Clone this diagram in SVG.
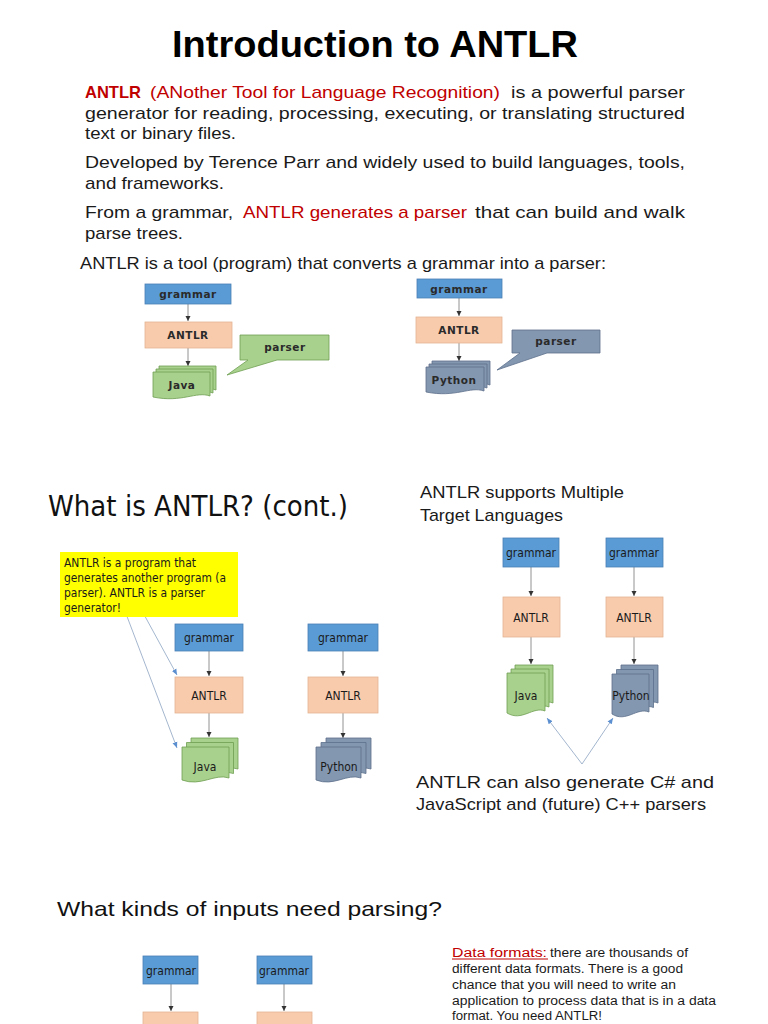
<svg xmlns="http://www.w3.org/2000/svg" width="768" height="1024" viewBox="0 0 768 1024">
<defs>
<style>
.body{font-family:"Liberation Sans",Arial,sans-serif;font-size:17px;fill:#1a1a1a}
.red{fill:#c00000}
.title{font-family:"Liberation Sans",Arial,sans-serif;font-size:36px;font-weight:bold;fill:#000}
.lbl1{font-family:"DejaVu Sans",sans-serif;font-size:10.5px;font-weight:bold;fill:#2a2a2a;text-anchor:middle;letter-spacing:0.5px}
.lbl2{font-family:"DejaVu Sans Condensed","DejaVu Sans",sans-serif;font-size:12px;fill:#1a1a1a;text-anchor:middle}
.blue{fill:#5b9bd5;stroke:#4a7fb5;stroke-width:0.8}
.peach{fill:#f8cbad;stroke:#e3b494;stroke-width:0.8}
.green{fill:#a9d18e;stroke:#6f9e52;stroke-width:0.8}
.slate{fill:#8497b0;stroke:#5d708c;stroke-width:0.8}
.conn{stroke:#777;stroke-width:0.8;fill:none}
.callout{stroke:#9aaec8;stroke-width:0.9;fill:none}
.ybox{font-family:"DejaVu Sans Condensed","DejaVu Sans",sans-serif;font-size:12px;fill:#1a1a1a}
.sm{font-family:"Liberation Sans",Arial,sans-serif;font-size:12.5px;fill:#1a1a1a}
.smred{font-family:"Liberation Sans",Arial,sans-serif;font-size:12.5px;fill:#c00000}
</style>
<marker id="ah" markerWidth="6" markerHeight="6" refX="5" refY="3" orient="auto" markerUnits="userSpaceOnUse">
<path d="M0,0.5 L5,3 L0,5.5 Z" fill="#333"/>
</marker>
<marker id="ahb" markerWidth="7" markerHeight="7" refX="6" refY="3.5" orient="auto" markerUnits="userSpaceOnUse">
<path d="M0,1 L6,3.5 L0,6 Z" fill="#5b8fd0"/>
</marker>
</defs>
<rect width="768" height="1024" fill="#fff"/>

<g id="title">
<text class="title" x="172" y="57" textLength="406" lengthAdjust="spacingAndGlyphs">Introduction to ANTLR</text>
</g>

<g id="intro-text">
<text class="body red" x="85" y="98" font-weight="bold" textLength="56" lengthAdjust="spacingAndGlyphs">ANTLR</text>
<text class="body red" x="150" y="98" textLength="350" lengthAdjust="spacingAndGlyphs">(ANother Tool for Language Recognition)</text>
<text class="body" x="511" y="98" textLength="174" lengthAdjust="spacingAndGlyphs">is a powerful parser</text>
<text class="body" x="85" y="119" textLength="600" lengthAdjust="spacingAndGlyphs">generator for reading, processing, executing, or translating structured</text>
<text class="body" x="85" y="139" textLength="151" lengthAdjust="spacingAndGlyphs">text or binary files.</text>
<text class="body" x="85" y="168" textLength="600" lengthAdjust="spacingAndGlyphs">Developed by Terence Parr and widely used to build languages, tools,</text>
<text class="body" x="85" y="189" textLength="139" lengthAdjust="spacingAndGlyphs">and frameworks.</text>
<text class="body" x="85" y="218" textLength="148" lengthAdjust="spacingAndGlyphs">From a grammar,</text>
<text class="body red" x="243" y="218" textLength="224" lengthAdjust="spacingAndGlyphs">ANTLR generates a parser</text>
<text class="body" x="475" y="218" textLength="210" lengthAdjust="spacingAndGlyphs">that can build and walk</text>
<text class="body" x="85" y="239" textLength="98" lengthAdjust="spacingAndGlyphs">parse trees.</text>
<text class="body" x="80" y="269" textLength="526" lengthAdjust="spacingAndGlyphs">ANTLR is a tool (program) that converts a grammar into a parser:</text>
</g>

<g id="connectors">
<line class="conn" x1="188" y1="304" x2="188" y2="321" marker-end="url(#ah)"/>
<line class="conn" x1="188" y1="348" x2="188" y2="366" marker-end="url(#ah)"/>
<line class="conn" x1="459" y1="298" x2="459" y2="316" marker-end="url(#ah)"/>
<line class="conn" x1="459" y1="343" x2="459" y2="361" marker-end="url(#ah)"/>
<line class="conn" x1="209" y1="651" x2="209" y2="676" marker-end="url(#ah)"/>
<line class="conn" x1="209" y1="713" x2="209" y2="737" marker-end="url(#ah)"/>
<line class="conn" x1="343" y1="651" x2="343" y2="676" marker-end="url(#ah)"/>
<line class="conn" x1="343" y1="713" x2="343" y2="738" marker-end="url(#ah)"/>
<line class="conn" x1="531" y1="567" x2="531" y2="596" marker-end="url(#ah)"/>
<line class="conn" x1="531" y1="637" x2="531" y2="664" marker-end="url(#ah)"/>
<line class="conn" x1="634" y1="567" x2="634" y2="596" marker-end="url(#ah)"/>
<line class="conn" x1="634" y1="637" x2="634" y2="664" marker-end="url(#ah)"/>
<line class="conn" x1="171" y1="984" x2="171" y2="1011" marker-end="url(#ah)"/>
<line class="conn" x1="284" y1="984" x2="284" y2="1011" marker-end="url(#ah)"/>
<line class="callout" x1="135" y1="598" x2="177" y2="675" marker-end="url(#ahb)"/>
<line class="callout" x1="120" y1="598" x2="177" y2="748" marker-end="url(#ahb)"/>
<line class="callout" x1="582" y1="764" x2="547" y2="718" marker-end="url(#ahb)"/>
<line class="callout" x1="582" y1="764" x2="613" y2="718" marker-end="url(#ahb)"/>
</g>

<g id="tl-grammar"><rect class="blue" x="145" y="284" width="86" height="20"/><text class="lbl1" x="188" y="298">grammar</text></g>
<g id="tl-antlr"><rect class="peach" x="145" y="322" width="87" height="26"/><text class="lbl1" x="188" y="339">ANTLR</text></g>
<g id="tl-java">
<path class="green" d="M159,366 H216 V390 C202,385 188,397 159,391 Z"/>
<path class="green" d="M156,369 H213 V393 C199,388 185,400 156,394 Z"/>
<path class="green" d="M153,372 H210 V396 C196,391 182,403 153,397 Z"/>
<text class="lbl1" x="182" y="389">Java</text>
</g>
<g id="tl-parser">
<path class="green" d="M240,335 H329 V360 H277 L227,375 L248,360 H240 Z"/>
<text class="lbl1" x="285" y="351">parser</text>
</g>

<g id="tr-grammar"><rect class="blue" x="417" y="279" width="85" height="19"/><text class="lbl1" x="459" y="293">grammar</text></g>
<g id="tr-antlr"><rect class="peach" x="416" y="317" width="86" height="26"/><text class="lbl1" x="459" y="334">ANTLR</text></g>
<g id="tr-python">
<path class="slate" d="M432,361 H490 V385 C476,380 462,392 432,386 Z"/>
<path class="slate" d="M429,364 H487 V388 C473,383 459,395 429,389 Z"/>
<path class="slate" d="M426,367 H484 V391 C470,386 456,398 426,392 Z"/>
<text class="lbl1" x="454" y="384">Python</text>
</g>
<g id="tr-parser">
<path class="slate" d="M512,330 H600 V353 H547 L497,370 L520,353 H512 Z"/>
<text class="lbl1" x="556" y="345">parser</text>
</g>

<g id="section2-heading">
<text x="48" y="516" font-family="DejaVu Sans Condensed, DejaVu Sans, sans-serif" font-size="29" fill="#111" textLength="300" lengthAdjust="spacingAndGlyphs">What is ANTLR? (cont.)</text>
</g>

<g id="note">
<rect x="60" y="552" width="178" height="65" fill="#ffff00"/>
<text class="ybox" x="64" y="567" textLength="132" lengthAdjust="spacingAndGlyphs">ANTLR is a program that</text>
<text class="ybox" x="64" y="582" textLength="162" lengthAdjust="spacingAndGlyphs">generates another program (a</text>
<text class="ybox" x="64" y="597" textLength="141" lengthAdjust="spacingAndGlyphs">parser). ANTLR is a parser</text>
<text class="ybox" x="64" y="612" textLength="57" lengthAdjust="spacingAndGlyphs">generator!</text>
</g>

<g id="ml-grammar"><rect class="blue" x="175" y="624" width="68" height="27"/><text class="lbl2" x="209" y="642">grammar</text></g>
<g id="ml-antlr"><rect class="peach" x="175" y="677" width="68" height="36"/><text class="lbl2" x="209" y="700">ANTLR</text></g>
<g id="ml-java">
<path class="green" d="M191,738 H238 V769 C224,764 210,778 191,771 Z"/>
<path class="green" d="M186.5,742.5 H233.5 V773.5 C219.5,768.5 205.5,782.5 186.5,775.5 Z"/>
<path class="green" d="M182,747 H229 V778 C215,773 201,787 182,780 Z"/>
<text class="lbl2" x="205" y="771">Java</text>
</g>
<g id="mr-grammar"><rect class="blue" x="308" y="624" width="70" height="27"/><text class="lbl2" x="343" y="642">grammar</text></g>
<g id="mr-antlr"><rect class="peach" x="308" y="677" width="70" height="36"/><text class="lbl2" x="343" y="700">ANTLR</text></g>
<g id="mr-python">
<path class="slate" d="M326,738 H371 V769 C357,764 344,778 326,771 Z"/>
<path class="slate" d="M321,742.5 H366 V773.5 C352,768.5 339,782.5 321,775.5 Z"/>
<path class="slate" d="M316,747 H361 V778 C347,773 334,787 316,780 Z"/>
<text class="lbl2" x="339" y="771">Python</text>
</g>

<g id="section2-right-text">
<text class="body" x="420" y="498" font-size="16" textLength="204" lengthAdjust="spacingAndGlyphs">ANTLR supports Multiple</text>
<text class="body" x="420" y="521" font-size="16" textLength="143" lengthAdjust="spacingAndGlyphs">Target Languages</text>
<text class="body" x="416" y="788" textLength="298" lengthAdjust="spacingAndGlyphs">ANTLR can also generate C# and</text>
<text class="body" x="416" y="810" textLength="290" lengthAdjust="spacingAndGlyphs">JavaScript and (future) C++ parsers</text>
</g>

<g id="t1-grammar"><rect class="blue" x="503" y="538" width="56" height="29"/><text class="lbl2" x="531" y="557">grammar</text></g>
<g id="t1-antlr"><rect class="peach" x="503" y="597" width="57" height="40"/><text class="lbl2" x="531" y="622">ANTLR</text></g>
<g id="t1-java">
<path class="green" d="M515,665 H553 V703 C541,698 530,714 515,705 Z"/>
<path class="green" d="M511,669 H549 V707 C537,702 526,718 511,709 Z"/>
<path class="green" d="M507,673 H545 V711 C533,706 522,722 507,713 Z"/>
<text class="lbl2" x="526" y="700">Java</text>
</g>
<g id="t2-grammar"><rect class="blue" x="606" y="538" width="57" height="29"/><text class="lbl2" x="634" y="557">grammar</text></g>
<g id="t2-antlr"><rect class="peach" x="606" y="597" width="57" height="40"/><text class="lbl2" x="634" y="622">ANTLR</text></g>
<g id="t2-python">
<path class="slate" d="M621,665 H658 V703 C646,698 635,714 621,705 Z"/>
<path class="slate" d="M616.5,669.5 H653.5 V707.5 C641.5,702.5 630.5,718.5 616.5,709.5 Z"/>
<path class="slate" d="M612,674 H649 V712 C637,707 626,723 612,714 Z"/>
<text class="lbl2" x="631" y="700">Python</text>
</g>

<g id="section3-heading">
<text x="57" y="916" font-family="Liberation Sans, Arial, sans-serif" font-size="21" fill="#111" textLength="385" lengthAdjust="spacingAndGlyphs">What kinds of inputs need parsing?</text>
</g>

<g id="b1-grammar"><rect class="blue" x="143" y="956" width="55" height="28"/><text class="lbl2" x="171" y="975">grammar</text></g>
<g id="b1-antlr"><rect class="peach" x="143" y="1012" width="55" height="30"/></g>
<g id="b2-grammar"><rect class="blue" x="257" y="956" width="55" height="28"/><text class="lbl2" x="284" y="975">grammar</text></g>
<g id="b2-antlr"><rect class="peach" x="257" y="1012" width="55" height="30"/></g>

<g id="data-formats-text">
<text class="smred" x="452" y="957" textLength="95" lengthAdjust="spacingAndGlyphs">Data formats:</text>
<line x1="452" y1="959" x2="548" y2="959" stroke="#c00000" stroke-width="1"/>
<text class="sm" x="550" y="957" textLength="138" lengthAdjust="spacingAndGlyphs">there are thousands of</text>
<text class="sm" x="452" y="973" textLength="231" lengthAdjust="spacingAndGlyphs">different data formats. There is a good</text>
<text class="sm" x="452" y="989" textLength="224" lengthAdjust="spacingAndGlyphs">chance that you will need to write an</text>
<text class="sm" x="452" y="1005" textLength="264" lengthAdjust="spacingAndGlyphs">application to process data that is in a data</text>
<text class="sm" x="452" y="1020" textLength="150" lengthAdjust="spacingAndGlyphs">format. You need ANTLR!</text>
</g>
</svg>
